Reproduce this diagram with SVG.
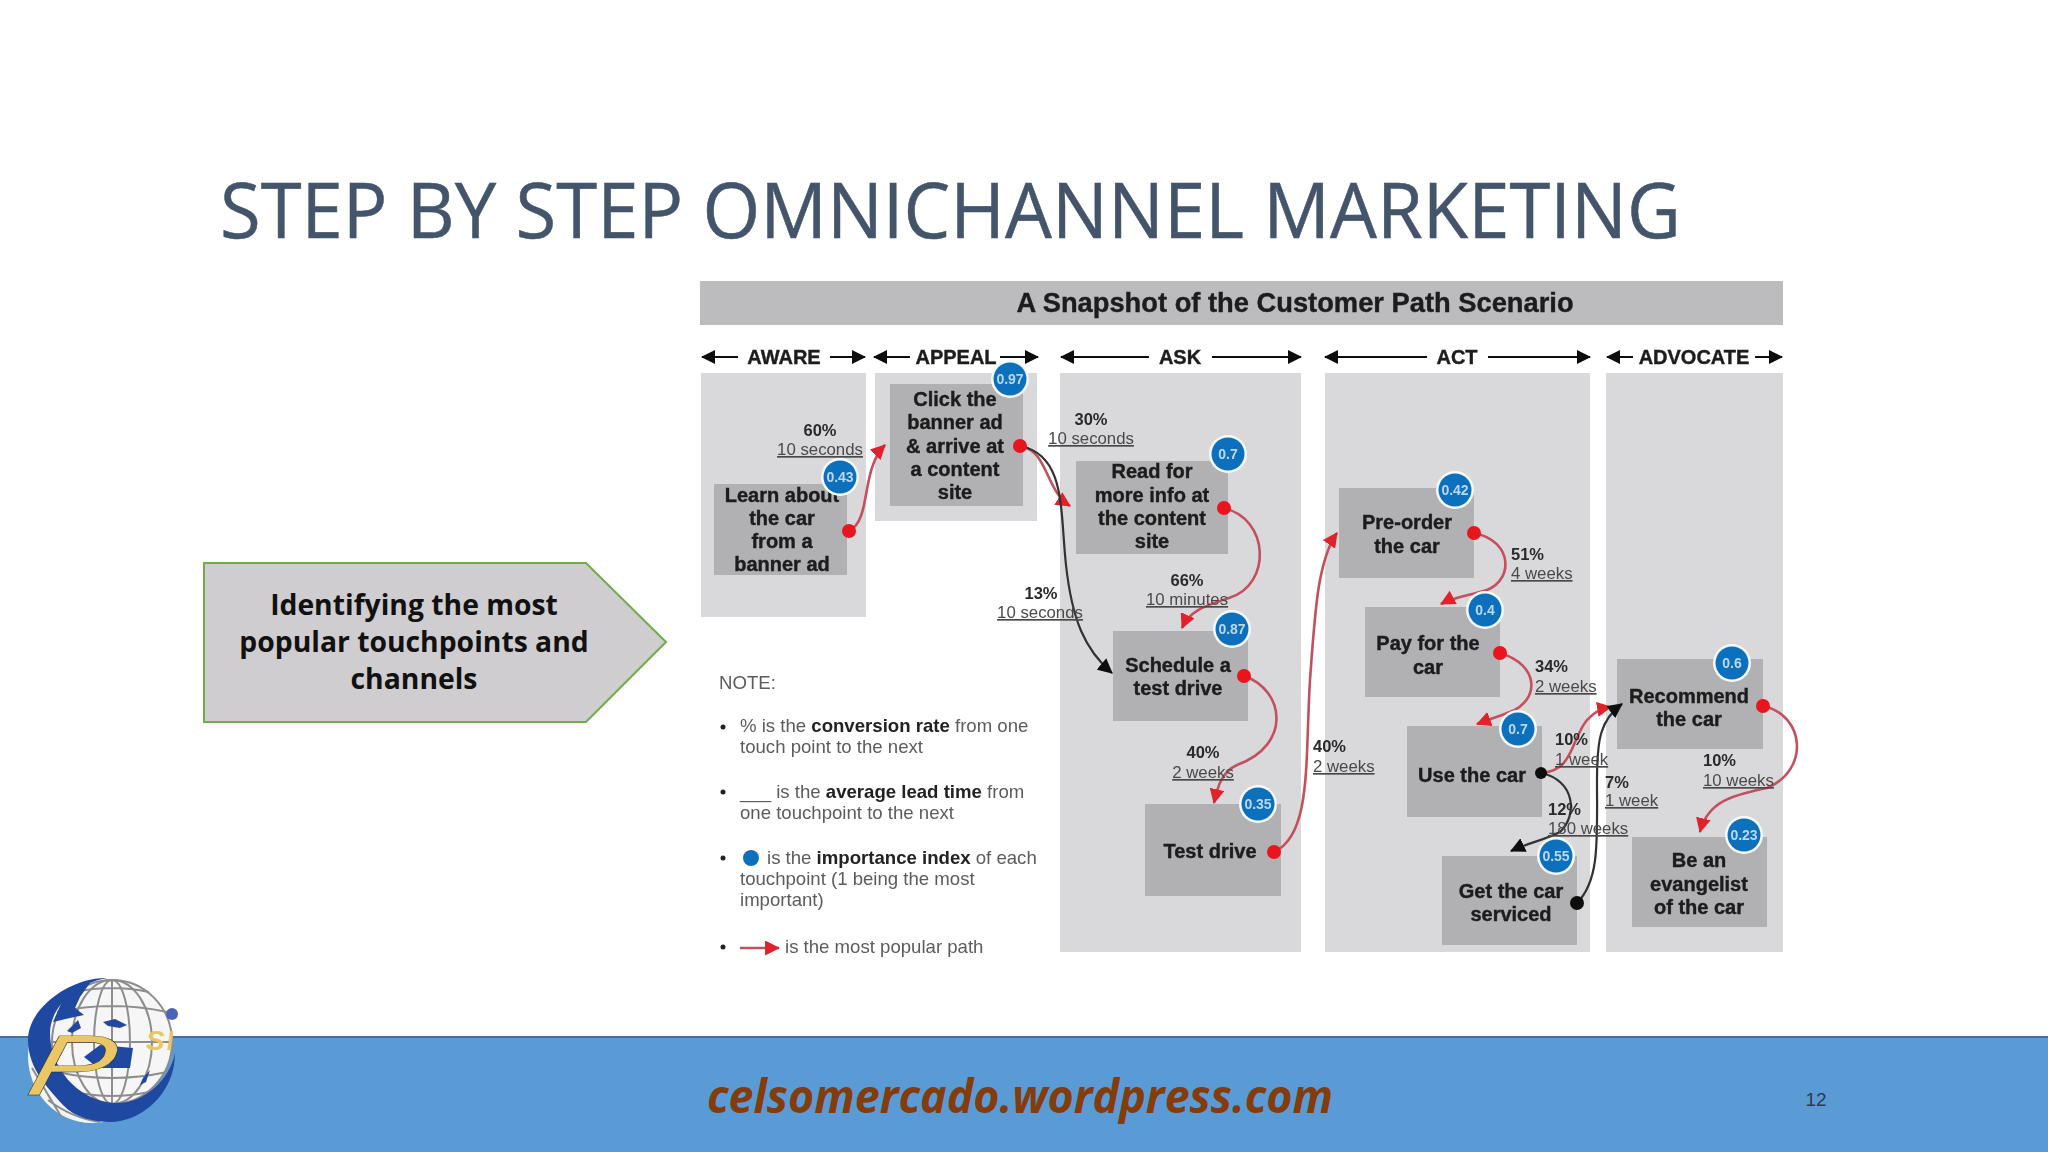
<svg xmlns="http://www.w3.org/2000/svg" width="2048" height="1152" viewBox="0 0 2048 1152">
<defs>
<filter id="soft" x="-5%" y="-5%" width="110%" height="110%"><feGaussianBlur stdDeviation="0.75"/></filter>
<marker id="hb" viewBox="0 0 14 14" refX="13" refY="7" markerWidth="14" markerHeight="14" markerUnits="userSpaceOnUse" orient="auto-start-reverse"><path d="M0 0L14 7L0 14Z" fill="#111"/></marker>
<marker id="ar" viewBox="0 0 14 14" refX="13" refY="7" markerWidth="15" markerHeight="15" markerUnits="userSpaceOnUse" orient="auto"><path d="M0 0L14 7L0 14Z" fill="#e0202a"/></marker>
<marker id="ab" viewBox="0 0 14 14" refX="13" refY="7" markerWidth="15" markerHeight="15" markerUnits="userSpaceOnUse" orient="auto"><path d="M0 0L14 7L0 14Z" fill="#111"/></marker>
</defs>
<style>
text{font-family:"Liberation Sans",Arial,sans-serif}
.ui{font-family:"Open Sans","Noto Sans",sans-serif}
.band{fill:#bcbbbd}
.col{fill:#d9d9db}
.box{fill:#b1b0b2}
.bt{font-size:20px;font-weight:700;fill:#1c1c1c;stroke:#1c1c1c;stroke-width:.4;text-anchor:middle}
.hd{font-size:20px;font-weight:700;fill:#1c1c1c;stroke:#1c1c1c;stroke-width:.4;text-anchor:middle}
.hl{stroke:#111;stroke-width:2;fill:none;marker-end:url(#hb)}
.halo{fill:#f4fafd}
.bd{fill:#0f70bd}
.bv{font-size:14px;font-weight:700;fill:#bcd8ef;text-anchor:middle}
.rd{fill:#e8141f}
.bk{fill:#111}
.r{fill:none;stroke:#c4505f;stroke-width:2.6;marker-end:url(#ar)}
.k{fill:none;stroke:#333;stroke-width:2.2;marker-end:url(#ab)}
.pc{font-size:16.5px;font-weight:700;fill:#2a2a2a;text-anchor:middle}
.tm{font-size:16.8px;fill:#4a4a4a;text-anchor:middle;text-decoration:underline}
.l{text-anchor:start}
.n{font-size:18.6px;fill:#5c5c5c}
.n tspan.b{font-weight:700;fill:#222}
.bu{fill:#222}
.grid{fill:none;stroke:#8d8d8f;stroke-width:2}
.gold{font-weight:700;font-style:italic;fill:#e9c765}
</style>
<rect width="2048" height="1152" fill="#fff"/>
<text id="title" class="ui" x="220" y="238" font-size="76" textLength="1461" lengthAdjust="spacingAndGlyphs" fill="#44546a" stroke="#44546a" stroke-width="0.5">STEP BY STEP OMNICHANNEL MARKETING</text>
<g id="callout">
<path d="M204 563H586L666 642L586 722H204Z" fill="#cfcdcf" stroke="#70ad47" stroke-width="2"/>
<g font-size="28.3" font-weight="700" fill="#111" text-anchor="middle">
<text class="ui" x="414" y="615">Identifying the most</text>
<text class="ui" x="414" y="652">popular touchpoints and</text>
<text class="ui" x="414" y="689">channels</text>
</g></g>
<g id="snapshot" filter="url(#soft)">
<rect class="band" x="700" y="281" width="1083" height="44"/>
<text x="1295" y="312" font-size="27.3" font-weight="700" fill="#1c1c1c" stroke="#1c1c1c" stroke-width=".4" text-anchor="middle">A Snapshot of the Customer Path Scenario</text>
<g id="stages">
<rect class="col" x="701" y="373" width="165" height="244"/>
<rect class="col" x="875" y="373" width="162" height="148"/>
<rect class="col" x="1060" y="373" width="241" height="579"/>
<rect class="col" x="1325" y="373" width="265" height="579"/>
<rect class="col" x="1606" y="373" width="177" height="579"/>
<text class="hd" x="784" y="364">AWARE</text>
<text class="hd" x="956" y="364">APPEAL</text>
<text class="hd" x="1180" y="364">ASK</text>
<text class="hd" x="1457" y="364">ACT</text>
<text class="hd" x="1694" y="364">ADVOCATE</text>
<path class="hl" d="M738 357H702"/><path class="hl" d="M830 357H865"/>
<path class="hl" d="M910 357H874"/><path class="hl" d="M1000 357H1038"/>
<path class="hl" d="M1149 357H1061"/><path class="hl" d="M1212 357H1301"/>
<path class="hl" d="M1427 357H1325"/><path class="hl" d="M1488 357H1590"/>
<path class="hl" d="M1633 357H1607"/><path class="hl" d="M1755 357H1782"/>
</g>
<g id="n-learn"><rect class="box" x="714" y="484" width="133" height="91"/><text class="bt" x="782" y="502">Learn about</text><text class="bt" x="782" y="525">the car</text><text class="bt" x="782" y="548">from a</text><text class="bt" x="782" y="571">banner ad</text></g>
<g id="n-click"><rect class="box" x="890" y="384" width="133" height="122"/><text class="bt" x="955" y="406">Click the</text><text class="bt" x="955" y="429">banner ad</text><text class="bt" x="955" y="453">&amp; arrive at</text><text class="bt" x="955" y="476">a content</text><text class="bt" x="955" y="499">site</text></g>
<g id="n-read"><rect class="box" x="1076" y="461" width="152" height="93"/><text class="bt" x="1152" y="478">Read for</text><text class="bt" x="1152" y="502">more info at</text><text class="bt" x="1152" y="525">the content</text><text class="bt" x="1152" y="548">site</text></g>
<g id="n-schedule"><rect class="box" x="1113" y="631" width="135" height="90"/><text class="bt" x="1178" y="672">Schedule a</text><text class="bt" x="1178" y="695">test drive</text></g>
<g id="n-test"><rect class="box" x="1145" y="804" width="136" height="92"/><text class="bt" x="1210" y="858">Test drive</text></g>
<g id="n-preorder"><rect class="box" x="1339" y="488" width="135" height="90"/><text class="bt" x="1407" y="529">Pre-order</text><text class="bt" x="1407" y="553">the car</text></g>
<g id="n-pay"><rect class="box" x="1365" y="607" width="135" height="90"/><text class="bt" x="1428" y="650">Pay for the</text><text class="bt" x="1428" y="674">car</text></g>
<g id="n-use"><rect class="box" x="1407" y="726" width="135" height="91"/><text class="bt" x="1472" y="782">Use the car</text></g>
<g id="n-service"><rect class="box" x="1442" y="856" width="135" height="89"/><text class="bt" x="1511" y="898">Get the car</text><text class="bt" x="1511" y="921">serviced</text></g>
<g id="n-recommend"><rect class="box" x="1617" y="659" width="146" height="90"/><text class="bt" x="1689" y="703">Recommend</text><text class="bt" x="1689" y="726">the car</text></g>
<g id="n-evangelist"><rect class="box" x="1632" y="837" width="135" height="90"/><text class="bt" x="1699" y="867">Be an</text><text class="bt" x="1699" y="891">evangelist</text><text class="bt" x="1699" y="914">of the car</text></g>
<g id="connectors">
<path class="r" d="M849 531C872 520 860 470 885 445"/>
<path class="r" d="M1020 446C1048 450 1045 490 1070 506"/>
<path class="k" d="M1020 446C1066 455 1060 510 1066 565C1072 620 1085 650 1112 673"/>
<path class="r" d="M1223 508C1270 518 1272 585 1229 598C1205 606 1190 610 1182 628"/>
<path class="r" d="M1244 676C1285 690 1292 745 1237 765C1222 772 1218 785 1214 803"/>
<path class="r" d="M1274 852C1312 835 1305 760 1310 680C1315 610 1318 560 1337 533"/>
<path class="r" d="M1473 533C1515 540 1515 585 1480 592C1465 596 1452 598 1441 604"/>
<path class="r" d="M1500 653C1540 665 1540 700 1510 712C1500 716 1490 719 1477 724"/>
<path class="r" d="M1541 773C1585 770 1565 715 1611 707"/>
<path class="k" d="M1541 773C1575 780 1578 815 1560 832C1545 840 1530 842 1511 851"/>
<path class="k" d="M1577 903C1600 880 1597 840 1597 780C1597 740 1600 720 1622 704"/>
<path class="r" d="M1763 706C1805 715 1810 770 1767 788C1735 795 1708 800 1700 832"/>
</g>
<g id="dots">
<circle class="rd" cx="849" cy="531" r="7"/><circle class="rd" cx="1020" cy="446" r="7"/><circle class="rd" cx="1224" cy="508" r="7"/><circle class="rd" cx="1244" cy="676" r="7"/><circle class="rd" cx="1274" cy="852" r="7"/><circle class="rd" cx="1474" cy="533" r="7"/><circle class="rd" cx="1500" cy="653" r="7"/><circle class="bk" cx="1541" cy="773" r="6"/><circle class="bk" cx="1577" cy="903" r="7"/><circle class="rd" cx="1763" cy="706" r="7"/>
</g>
<g id="badges">
<g id="b1"><circle class="halo" cx="840" cy="477" r="19"/><circle class="bd" cx="840" cy="477" r="16.5"/><text class="bv" x="840" y="482">0.43</text></g>
<g id="b2"><circle class="halo" cx="1010" cy="379" r="19"/><circle class="bd" cx="1010" cy="379" r="16.5"/><text class="bv" x="1010" y="384">0.97</text></g>
<g id="b3"><circle class="halo" cx="1228" cy="454" r="19"/><circle class="bd" cx="1228" cy="454" r="16.5"/><text class="bv" x="1228" y="459">0.7</text></g>
<g id="b4"><circle class="halo" cx="1232" cy="629" r="19"/><circle class="bd" cx="1232" cy="629" r="16.5"/><text class="bv" x="1232" y="634">0.87</text></g>
<g id="b5"><circle class="halo" cx="1258" cy="804" r="19"/><circle class="bd" cx="1258" cy="804" r="16.5"/><text class="bv" x="1258" y="809">0.35</text></g>
<g id="b6"><circle class="halo" cx="1455" cy="490" r="19"/><circle class="bd" cx="1455" cy="490" r="16.5"/><text class="bv" x="1455" y="495">0.42</text></g>
<g id="b7"><circle class="halo" cx="1485" cy="610" r="19"/><circle class="bd" cx="1485" cy="610" r="16.5"/><text class="bv" x="1485" y="615">0.4</text></g>
<g id="b8"><circle class="halo" cx="1518" cy="729" r="19"/><circle class="bd" cx="1518" cy="729" r="16.5"/><text class="bv" x="1518" y="734">0.7</text></g>
<g id="b9"><circle class="halo" cx="1556" cy="856" r="19"/><circle class="bd" cx="1556" cy="856" r="16.5"/><text class="bv" x="1556" y="861">0.55</text></g>
<g id="b10"><circle class="halo" cx="1732" cy="663" r="19"/><circle class="bd" cx="1732" cy="663" r="16.5"/><text class="bv" x="1732" y="668">0.6</text></g>
<g id="b11"><circle class="halo" cx="1744" cy="835" r="19"/><circle class="bd" cx="1744" cy="835" r="16.5"/><text class="bv" x="1744" y="840">0.23</text></g>
</g>
<g id="labels">
<text class="pc" x="820" y="436">60%</text><text class="tm" x="820" y="455">10 seconds</text>
<text class="pc" x="1091" y="425">30%</text><text class="tm" x="1091" y="444">10 seconds</text>
<text class="pc" x="1041" y="599">13%</text><text class="tm" x="1040" y="618">10 seconds</text>
<text class="pc" x="1187" y="586">66%</text><text class="tm" x="1187" y="605">10 minutes</text>
<text class="pc" x="1203" y="758">40%</text><text class="tm" x="1203" y="778">2 weeks</text>
<text class="pc l" x="1313" y="752">40%</text><text class="tm l" x="1313" y="772">2 weeks</text>
<text class="pc l" x="1511" y="560">51%</text><text class="tm l" x="1511" y="579">4 weeks</text>
<text class="pc l" x="1535" y="672">34%</text><text class="tm l" x="1535" y="692">2 weeks</text>
<text class="pc l" x="1555" y="745">10%</text><text class="tm l" x="1555" y="765">1 week</text>
<text class="pc l" x="1605" y="788">7%</text><text class="tm l" x="1605" y="806">1 week</text>
<text class="pc l" x="1548" y="815">12%</text><text class="tm l" x="1548" y="834">180 weeks</text>
<text class="pc l" x="1703" y="766">10%</text><text class="tm l" x="1703" y="786">10 weeks</text>
</g>
<g id="note">
<text class="n" x="719" y="689">NOTE:</text>
<circle class="bu" cx="723" cy="727" r="2.5"/><text class="n" x="740" y="732">% is the <tspan class="b">conversion rate</tspan> from one</text><text class="n" x="740" y="753">touch point to the next</text>
<circle class="bu" cx="723" cy="792" r="2.5"/><text class="n" x="740" y="798">___ is the <tspan class="b">average lead time</tspan> from</text><text class="n" x="740" y="819">one touchpoint to the next</text>
<circle class="bu" cx="723" cy="858" r="2.5"/><circle cx="751" cy="858" r="8" fill="#0f70bd"/><text class="n" x="767" y="864">is the <tspan class="b">importance index</tspan> of each</text><text class="n" x="740" y="885">touchpoint (1 being the most</text><text class="n" x="740" y="906">important)</text>
<circle class="bu" cx="723" cy="947" r="2.5"/><path d="M740 948H779" stroke="#c4505f" stroke-width="2.4" fill="none" marker-end="url(#ar)"/><text class="n" x="785" y="953">is the most popular path</text>
</g>
</g>
<g id="footer">
<rect x="0" y="1037" width="2048" height="115" fill="#5b9bd5"/>
<path d="M0 1037H2048" stroke="#41719c" stroke-width="2"/>
<text class="ui" x="707" y="1113" font-size="46" font-weight="700" font-style="italic" fill="#843c0c" textLength="626" lengthAdjust="spacingAndGlyphs">celsomercado.wordpress.com</text>
<text x="1816" y="1106" font-size="19" fill="#2b3b4a" text-anchor="middle">12</text>
</g>
<g id="logo">
<ellipse cx="92" cy="1056" rx="64" ry="67" fill="#f4f4f4"/>
<path class="grid" d="M32 1068L62 1118M48 1100Q72 1118 100 1122" />
<ellipse cx="112" cy="1042" rx="60" ry="62" fill="#f6f6f6"/>
<g class="grid">
<ellipse cx="112" cy="1042" rx="60" ry="62"/>
<ellipse cx="112" cy="1042" rx="40" ry="62"/>
<ellipse cx="112" cy="1042" rx="18" ry="62"/>
<path d="M112 980V1104M57 1012Q112 1000 167 1012M52 1042H172M57 1072Q112 1084 167 1072M75 992Q112 984 149 992M75 1092Q112 1100 149 1092"/>
</g>
<path d="M107 978C72 977 28 1007 28 1040C28 1070 50 1090 63 1105C75 1118 95 1122 110 1122C140 1122 175 1095 175 1053C170 1080 143 1105 113 1103C77 1100 50 1067 50 1033C50 1007 77 983 107 978Z" fill="#1f49a0"/>
<path d="M53 1022L68 988L80 985L92 980L80 997L75 1008L84 1015L70 1018Z" fill="#1f49a0"/>
<path d="M67 1031L78 1020L81 1028L72 1033Z" fill="#1f49a0"/>
<path d="M103 1022L115 1019L127 1025L120 1028L108 1026Z" fill="#1f49a0"/>
<path d="M84 1057L100 1045L133 1048L130 1068L98 1068Z" fill="#1f49a0"/>
<path d="M143 1078L150 1070L146 1082L140 1085Z" fill="#1f49a0"/>
<text class="gold" transform="translate(24 1095) skewX(-14) scale(1.45 1)" font-size="86" stroke="#222" stroke-width="0.4" style="font-weight:400">P</text>
<text class="gold" x="146" y="1050" font-size="28">S</text>
<text class="gold" x="167" y="1050" font-size="28" textLength="6" lengthAdjust="spacingAndGlyphs">I</text>
<circle cx="172" cy="1014" r="6" fill="#4a63b5"/>
</g>
</svg>
